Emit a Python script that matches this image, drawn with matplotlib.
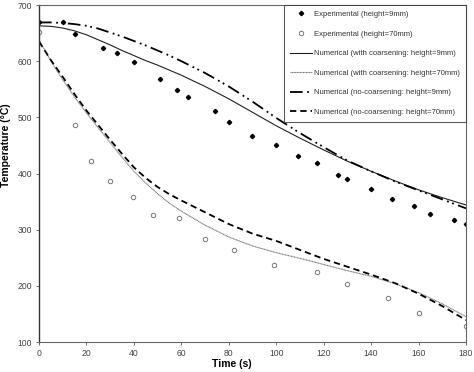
import numpy as np
import matplotlib
matplotlib.use("Agg")
import matplotlib.pyplot as plt

plt.rcParams['font.family'] = ['Liberation Sans', 'DejaVu Sans']

# Experimental points
exp9_t = [0, 10, 15, 27, 33, 40, 51, 58, 63, 74, 80, 90, 100, 109, 117, 126, 130,
          140, 149, 158, 165, 175, 180]
exp9_T = [669, 669, 648, 623, 614, 599, 569, 549, 537, 512, 492, 467, 450, 432, 419,
          398, 390, 373, 355, 343, 328, 318, 311]

exp70_t = [0, 15, 22, 30, 39.5, 48, 59, 70, 82, 99, 117, 130, 147, 160, 180]
exp70_T = [652, 486, 423, 387, 358, 327, 320, 283, 264, 238, 225, 203, 178, 151, 128]

# Numerical curves
num_t = [0, 5, 10, 15, 20, 25, 30, 35, 40, 45, 50, 55, 60, 70, 80, 90, 100, 110, 120,
         130, 140, 150, 160, 170, 180]
coarse9 = [663, 662, 659, 654, 647, 638, 629, 619, 610, 601, 593, 584, 575, 555, 533,
           509, 485, 463, 442, 422, 404, 387, 371, 357, 344]
coarse70 = [638, 600, 567, 536, 508, 481, 455, 429, 404, 383, 364, 347, 333, 308, 287,
            271, 259, 249, 238, 227, 217, 204, 188, 168, 145]
nocoarse9 = [669, 669, 668, 666, 663, 658, 651, 644, 636, 628, 619, 610, 600, 579, 555,
             528, 499, 472, 447, 423, 404, 386, 370, 354, 338]
nocoarse70 = [635, 602, 572, 541, 512, 486, 460, 435, 411, 392, 376, 363, 352, 331, 310,
              293, 280, 264, 248, 234, 220, 205, 186, 164, 139]

fig = plt.figure(figsize=(4.74, 3.72), dpi=100)
ax = fig.add_axes([0.0823, 0.0806, 0.9008, 0.9059])

ax.plot(exp9_t, exp9_T, linestyle='none', marker='D', markersize=2.2,
        color='black', label='Experimental (height=9mm)')
ax.plot(exp70_t, exp70_T, linestyle='none', marker='o', markersize=3.2,
        markerfacecolor='white', markeredgecolor='#777777', markeredgewidth=0.7,
        label='Experimental (height=70mm)')
ax.plot(num_t, coarse9, color='#222222', linewidth=0.8,
        label='Numerical (with coarsening: height=9mm)')
ax.plot(num_t, coarse70, color='#777777', linewidth=0.8, linestyle=(0, (1, 0.4)),
        label='Numerical (with coarsening: height=70mm)')
ax.plot(num_t, nocoarse9, color='black', linewidth=1.3,
        linestyle=(0, (7, 2.5, 1, 2, 1, 2.5)),
        label='Numerical (no-coarsening: height=9mm)')
ax.plot(num_t, nocoarse70, color='black', linewidth=1.3, linestyle=(0, (3.5, 2.2)),
        label='Numerical (no-coarsening: height=70mm)')

ax.set_xlim(0, 180)
ax.set_ylim(100, 700)
ax.set_xticks(np.arange(0, 181, 20))
ax.set_yticks(np.arange(100, 701, 100))
ax.tick_params(axis='both', labelsize=6.2, labelcolor='#444444', color='#555555',
               length=2, width=0.6, pad=3)

for side in ['top', 'right', 'bottom']:
    ax.spines[side].set_color('#666666')
    ax.spines[side].set_linewidth(0.8)
ax.spines['left'].set_color('#333333')
ax.spines['left'].set_linewidth(1.0)

ax.set_xlabel('Time (s)', fontsize=7.5, fontweight='bold')
ax.set_ylabel('Temperature (°C)', fontsize=7.5, fontweight='bold')
ax.xaxis.set_label_coords(0.452, -0.05)
ax.yaxis.set_label_coords(-0.066, 0.585)

leg = ax.legend(loc='upper right', bbox_to_anchor=(1.0, 1.0), borderaxespad=0,
                fontsize=5.5, frameon=True, fancybox=False, edgecolor='#333333',
                labelspacing=1.6, handlelength=3.0, handletextpad=0.25,
                borderpad=0.75, numpoints=1)
leg.get_frame().set_linewidth(0.8)
for txt in leg.get_texts():
    txt.set_color('#333333')

fig.savefig('out.png', dpi=100)
